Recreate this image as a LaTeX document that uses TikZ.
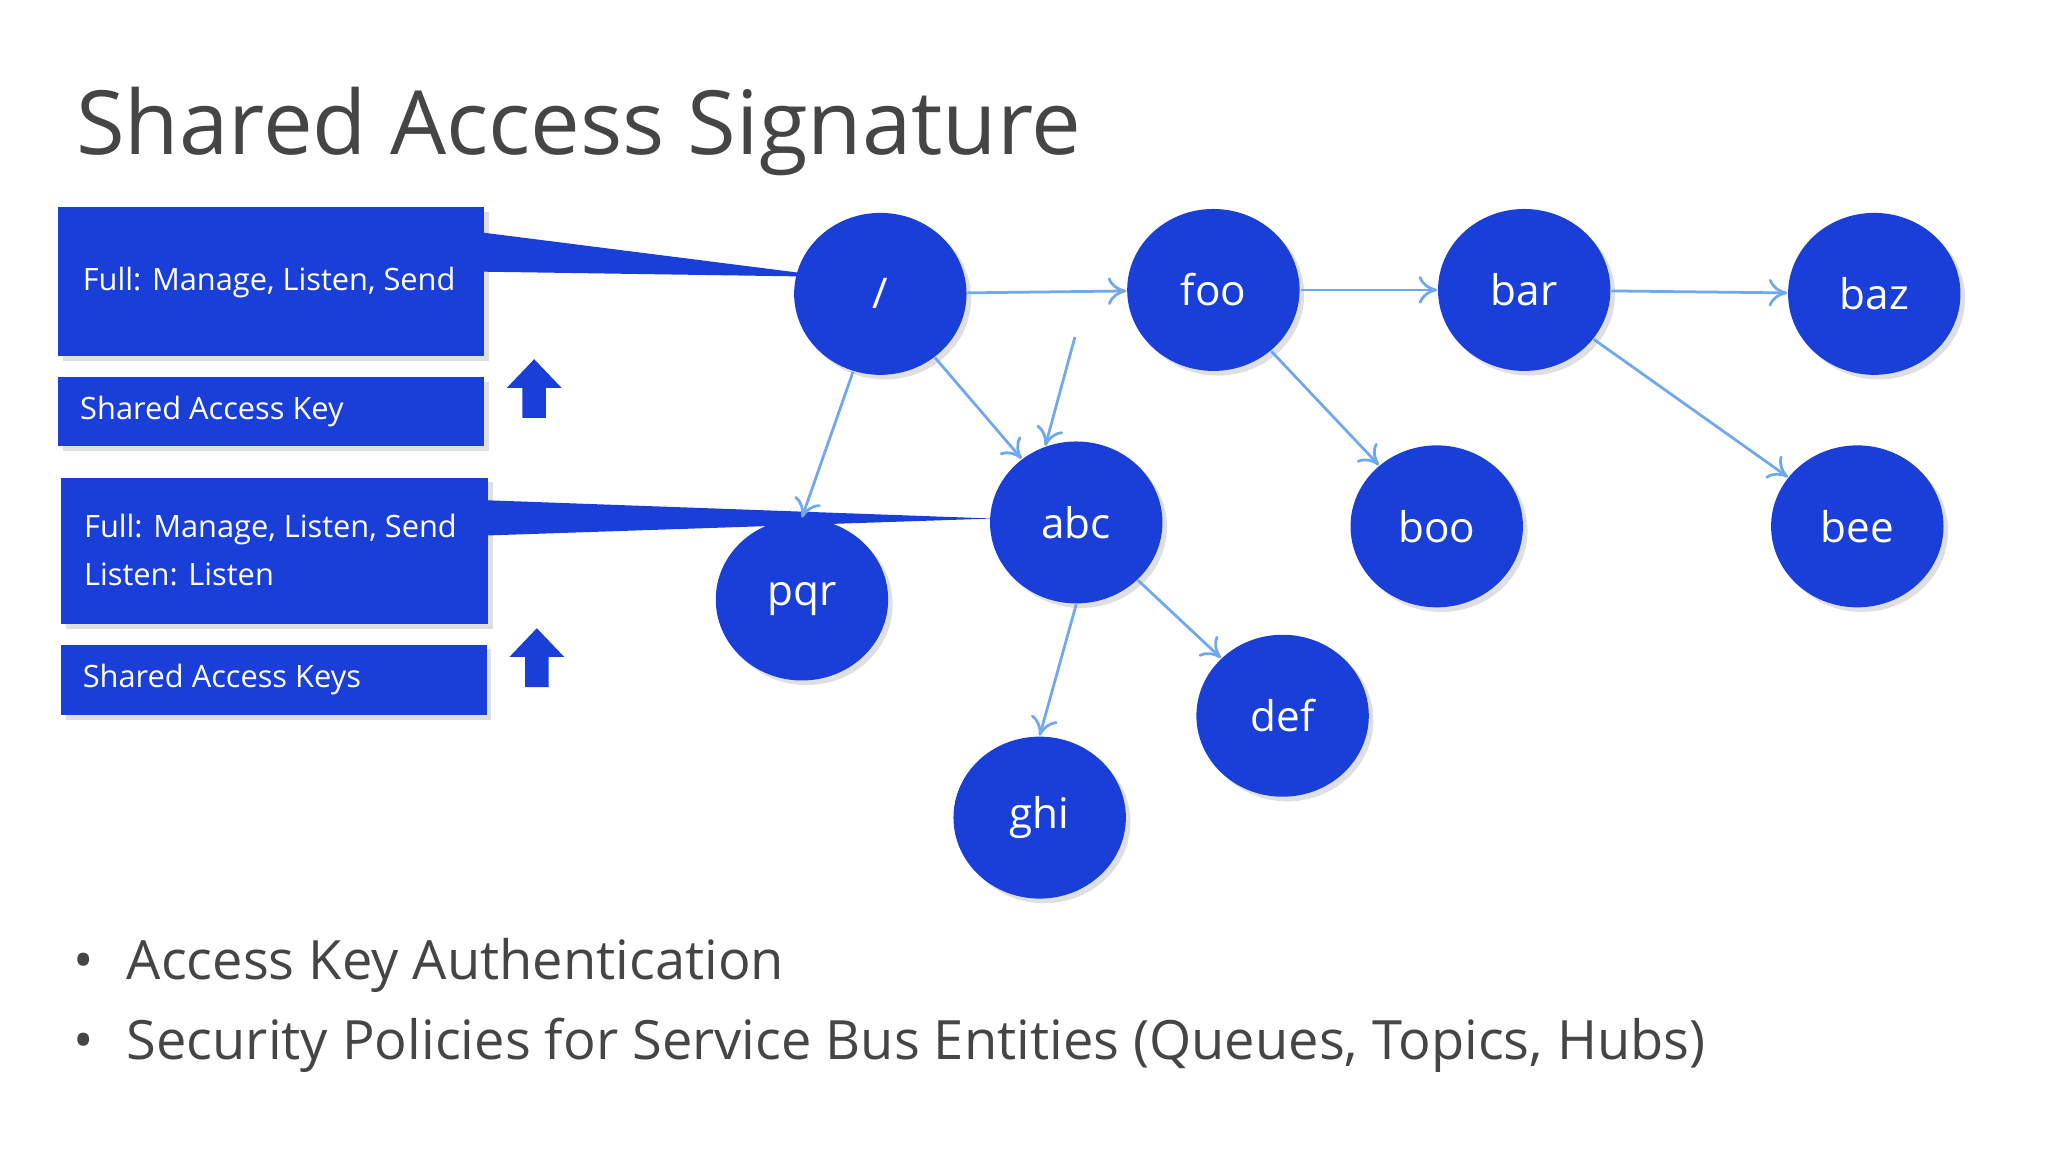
\documentclass[tikz,border=0pt]{standalone}
\usepackage{fontspec}
\setmainfont{Open Sans}
\usetikzlibrary{shapes.geometric,arrows.meta,shadows}
\definecolor{nblue}{HTML}{1A3FD8}
\definecolor{eblue}{HTML}{6FA8EE}
\definecolor{tgray}{HTML}{454545}
\tikzset{
  x=0.01cm,y=-0.01cm,
  ent/.style={ellipse,fill=nblue,minimum width=132*0.01cm,minimum height=124*0.01cm,inner sep=0pt,text=white,font=\fontsize{9.2}{11}\selectfont,drop shadow={opacity=0.25,shadow xshift=1pt,shadow yshift=-1pt}},
  kbox/.style={fill=nblue,text=white,anchor=north west,inner sep=0pt,drop shadow={opacity=0.25,shadow xshift=1pt,shadow yshift=-1pt}},
  ktext/.style={anchor=west,text=white,font=\fontsize{6.7}{8.6}\selectfont,align=left},
  edge/.style={draw=eblue,line width=0.6pt,-{To[length=4pt,width=6pt]}},
  uparr/.style={fill=nblue,draw=none},
  bul/.style={anchor=base west,text=tgray,font=\fontsize{11.8}{14}\selectfont},
}
\begin{document}
\begin{tikzpicture}
\useasboundingbox[fill=white] (0,0) rectangle (1568,882);
\node[anchor=base west,text=tgray,font=\fontsize{19.3}{23}\selectfont] (title) at (46,118) {Shared Access Signature};
% boxes
\node[kbox,minimum width=326*0.01cm,minimum height=114*0.01cm] (b1) at (44,158) {};
\node[ktext] (t1) at (51,216) {Full: Manage, Listen, Send};
\node[kbox,minimum width=326*0.01cm,minimum height=53*0.01cm] (b2) at (44,288) {};
\node[ktext] (t2) at (49,315) {Shared Access Key};
\node[kbox,minimum width=327*0.01cm,minimum height=112*0.01cm] (b3) at (46,365) {};
\node[ktext] (t3) at (52,421) {Full: Manage, Listen, Send\\[2pt]Listen: Listen};
\node[kbox,minimum width=326*0.01cm,minimum height=54*0.01cm] (b4) at (46,493) {};
\node[ktext] (t4) at (51,520) {Shared Access Keys};
% wedges
\fill[nblue] (369,178) -- (637,212) -- (369,208) -- cycle;
\fill[nblue] (372,383) -- (760,397) -- (372,410) -- cycle;
% up arrows
\fill[uparr] (409,275) -- (430,297) -- (418,297) -- (418,320) -- (400,320) -- (400,297) -- (388,297) -- cycle;
\fill[uparr] (411,481) -- (432,503) -- (420,503) -- (420,526) -- (402,526) -- (402,503) -- (390,503) -- cycle;
% nodes
\node[ent] (root) at (674,225) {/};
\node[ent] (foo) at (929,222) {foo};
\node[ent] (bar) at (1167,222) {bar};
\node[ent] (baz) at (1435,225) {baz};
\node[ent] (abc) at (824,400) {abc};
\node[ent] (boo) at (1100,403) {boo};
\node[ent] (bee) at (1422,403) {bee};
\node[ent] (pqr) at (614,459) {pqr};
\node[ent] (def) at (982,548) {def};
\node[ent] (ghi) at (796,626) {ghi};
\coordinate (free) at (823,258);
% edges
\draw[edge] (root) -- (foo);
\draw[edge] (foo) -- (bar);
\draw[edge] (bar) -- (baz);
\draw[edge] (root) -- (pqr.north);
\draw[edge] (root) -- (abc);
\draw[edge] (free) -- (abc.112);
\draw[edge] (foo) -- (boo);
\draw[edge] (bar) -- (bee);
\draw[edge] (abc) -- (def);
\draw[edge] (abc.south) -- (ghi.north);
% bullets
\node[bul] (l1) at (44,750) {•\hspace{0.25cm}Access Key Authentication};
\node[bul] (l2) at (44,811) {•\hspace{0.25cm}Security Policies for Service Bus Entities (Queues, Topics, Hubs)};
\end{tikzpicture}
\end{document}
